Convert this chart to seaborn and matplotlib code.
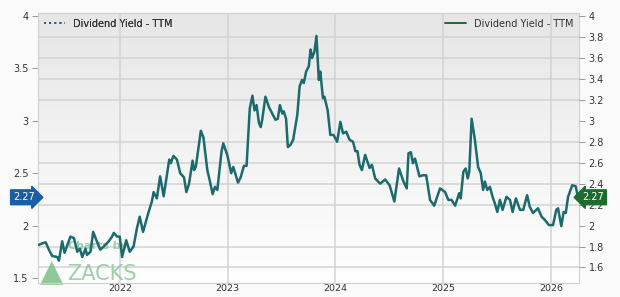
import numpy as np
import pandas as pd
import matplotlib
matplotlib.use("Agg")
import matplotlib.pyplot as plt
from matplotlib.lines import Line2D
from matplotlib.colors import LinearSegmentedColormap
import seaborn as sns

dates = [
    "2021-03-31", "2021-04-12", "2021-04-24", "2021-05-05", "2021-05-16", "2021-06-02",
    "2021-06-08", "2021-06-19", "2021-06-27", "2021-07-17", "2021-07-29", "2021-08-09",
    "2021-08-18", "2021-08-26", "2021-09-06", "2021-09-11", "2021-09-23", "2021-10-02",
    "2021-10-13", "2021-10-26", "2021-11-07", "2021-11-24", "2021-12-05", "2021-12-11",
    "2021-12-22", "2021-12-31", "2022-01-08", "2022-01-22", "2022-02-03", "2022-02-16",
    "2022-02-27", "2022-03-09", "2022-03-20", "2022-03-28", "2022-04-08", "2022-04-19",
    "2022-04-25", "2022-05-06", "2022-05-17", "2022-05-29", "2022-06-17", "2022-06-22",
    "2022-07-01", "2022-07-13", "2022-07-24", "2022-08-06", "2022-08-14", "2022-08-23",
    "2022-09-04", "2022-09-09", "2022-09-15", "2022-10-02", "2022-10-11", "2022-10-24",
    "2022-11-02", "2022-11-11", "2022-11-19", "2022-11-27", "2022-12-11", "2022-12-17",
    "2022-12-31", "2023-01-13", "2023-01-20", "2023-02-05", "2023-02-14", "2023-02-25",
    "2023-03-06", "2023-03-17", "2023-03-26", "2023-04-02", "2023-04-09", "2023-04-17",
    "2023-04-23", "2023-04-28", "2023-05-09", "2023-05-21", "2023-06-01", "2023-06-12",
    "2023-06-20", "2023-06-27", "2023-07-05", "2023-07-10", "2023-07-18", "2023-07-24",
    "2023-08-02", "2023-08-11", "2023-08-25", "2023-09-02", "2023-09-10", "2023-09-16",
    "2023-09-24", "2023-10-03", "2023-10-09", "2023-10-14", "2023-10-22", "2023-10-29",
    "2023-11-06", "2023-11-11", "2023-11-20", "2023-11-25", "2023-12-06", "2023-12-15",
    "2023-12-26", "2024-01-07", "2024-01-18", "2024-01-27", "2024-02-07", "2024-02-18",
    "2024-03-01", "2024-03-09", "2024-03-16", "2024-03-23", "2024-03-31", "2024-04-11",
    "2024-04-26", "2024-05-04", "2024-05-15", "2024-06-01", "2024-06-18", "2024-07-03",
    "2024-07-19", "2024-08-04", "2024-08-19", "2024-08-30", "2024-09-05", "2024-09-13",
    "2024-09-20", "2024-09-27", "2024-10-12", "2024-10-23", "2024-11-04", "2024-11-17",
    "2024-12-01", "2024-12-21", "2025-01-07", "2025-01-18", "2025-01-29", "2025-02-10",
    "2025-02-24", "2025-03-01", "2025-03-10", "2025-03-18", "2025-03-25", "2025-03-30",
    "2025-04-07", "2025-04-18", "2025-04-29", "2025-05-08", "2025-05-16", "2025-05-22",
    "2025-05-30", "2025-06-08", "2025-06-17", "2025-06-25", "2025-07-03", "2025-07-12",
    "2025-07-21", "2025-08-03", "2025-08-15", "2025-08-24", "2025-09-04", "2025-09-18",
    "2025-09-29", "2025-10-12", "2025-10-21", "2025-11-01", "2025-11-18", "2025-11-30",
    "2025-12-11", "2025-12-25", "2026-01-08", "2026-01-19", "2026-01-25", "2026-02-05",
    "2026-02-13", "2026-02-20", "2026-02-28", "2026-03-14", "2026-03-26", "2026-04-02",
    "2026-04-05",
]
dividend_yield = [
    1.815, 1.83, 1.84, 1.77, 1.71, 1.70,
    1.665, 1.85, 1.74, 1.895, 1.88, 1.75,
    1.78, 1.70, 1.78, 1.72, 1.75, 1.94,
    1.86, 1.77, 1.80, 1.85, 1.895, 1.93,
    1.895, 1.895, 1.70, 1.86, 1.75, 1.80,
    1.97, 2.085, 1.94, 2.02, 2.13, 2.23,
    2.32, 2.26, 2.47, 2.28, 2.63, 2.595,
    2.665, 2.63, 2.50, 2.46, 2.32, 2.40,
    2.62, 2.53, 2.56, 2.905, 2.84, 2.53,
    2.42, 2.30, 2.37, 2.34, 2.705, 2.785,
    2.67, 2.50, 2.56, 2.41, 2.46, 2.57,
    2.57, 3.12, 3.24, 3.10, 3.15, 2.98,
    2.94, 3.01, 3.23, 3.13, 3.07, 3.01,
    3.02, 3.15, 3.07, 3.09, 3.02, 2.75,
    2.77, 2.82, 3.055, 3.33, 3.39, 3.36,
    3.47, 3.52, 3.68, 3.60, 3.66, 3.81,
    3.39, 3.47, 3.215, 3.23, 3.10, 2.865,
    2.865, 2.80, 2.99, 2.88, 2.895, 2.82,
    2.80, 2.71, 2.71, 2.58, 2.53, 2.675,
    2.55, 2.58, 2.45, 2.40, 2.44, 2.385,
    2.23, 2.545, 2.42, 2.355, 2.69, 2.70,
    2.595, 2.64, 2.47, 2.48, 2.48, 2.245,
    2.19, 2.355, 2.32, 2.245, 2.245, 2.19,
    2.31, 2.26, 2.515, 2.545, 2.45, 2.515,
    3.02, 2.82, 2.56, 2.50, 2.34, 2.42,
    2.34, 2.37, 2.275, 2.21, 2.13, 2.245,
    2.15, 2.275, 2.245, 2.13, 2.26, 2.15,
    2.15, 2.29, 2.18, 2.12, 2.165, 2.085,
    2.055, 2.005, 2.005, 2.15, 2.165, 1.995,
    2.13, 2.12, 2.275, 2.385, 2.375, 2.275,
    2.27,
]
last_value = 2.27
series_name = "Dividend Yield - TTM"
left_ticks = [1.5, 2.0, 2.5, 3.0, 3.5, 4.0]
left_labels = ["1.5", "2", "2.5", "3", "3.5", "4"]
right_ticks = [1.6, 1.8, 2.0, 2.2, 2.4, 2.6, 2.8, 3.0, 3.2, 3.4, 3.6, 3.8, 4.0]
right_labels = ["1.6", "1.8", "2", "2.2", "2.4", "2.6", "2.8", "3", "3.2", "3.4", "3.6", "3.8", "4"]
year_ticks = ["2022-01-01", "2023-01-01", "2024-01-01", "2025-01-01", "2026-01-01"]
year_labels = ["2022", "2023", "2024", "2025", "2026"]

df = pd.DataFrame({"date": pd.to_datetime(dates), "value": dividend_yield})

sns.set_style("white")
plt.rcParams["font.family"] = ["DejaVu Sans"]

fig = plt.figure(figsize=(6.2, 2.97), dpi=100, facecolor="#fafafa")
ax = fig.add_axes([38 / 620, 14 / 297, 541 / 620, 270 / 297])

xmin = pd.Timestamp("2021-03-29")
xmax = pd.Timestamp("2026-04-06")
ymin, ymax = 1.452, 4.029

grad = np.linspace(0, 1, 256).reshape(-1, 1)
cmap = LinearSegmentedColormap.from_list("bg", ["#ffffff", "#e6e6e6"])
ax.imshow(grad, aspect="auto", cmap=cmap, origin="lower",
          extent=[0, 1, 0, 1], transform=ax.transAxes, zorder=0)

# watermark (under the line)
ax.text(0.056, 0.125, "Charts by", transform=ax.transAxes, fontsize=8, color="#8cc79a",
        alpha=0.85, zorder=2, fontweight="bold")
ax.text(0.004, 0.005, "\u25B2", transform=ax.transAxes, fontsize=22, color="#7cc08a",
        alpha=0.85, zorder=2)
ax.text(0.054, 0.012, "ZACKS", transform=ax.transAxes, fontsize=15, color="#8cc79a",
        alpha=0.85, zorder=2)

sns.lineplot(data=df, x="date", y="value", ax=ax, color="#1b6a6c", linewidth=1.8, zorder=3)

ax.set_xlim(xmin, xmax)
ax.set_ylim(ymin, ymax)
ax.set_xlabel("")
ax.set_ylabel("")

ax.set_yticks(left_ticks)
ax.set_yticklabels(left_labels)
ax.set_yticks(right_ticks, minor=True)
ax.grid(True, which="minor", axis="y", color="#d3d3d3", linewidth=1.1, zorder=1)
ax.grid(False, which="major", axis="y")
ax.tick_params(axis="y", which="minor", length=0)
ax.tick_params(axis="y", which="major", length=4, width=0.6, color="#888888",
               labelsize=7, labelcolor="#333333", pad=3)

ax.set_xticks(pd.to_datetime(year_ticks))
ax.set_xticklabels(year_labels)
ax.grid(True, which="major", axis="x", color="#d3d3d3", linewidth=1.1, zorder=1)
ax.tick_params(axis="x", length=0, labelsize=6.8, labelcolor="#333333", pad=1)

for s in ax.spines.values():
    s.set_color("#d0d0d0")
    s.set_linewidth(0.8)

ax2 = ax.twinx()
ax2.set_ylim(ymin, ymax)
ax2.set_yticks(right_ticks)
ax2.set_yticklabels(right_labels)
ax2.tick_params(axis="y", length=4, width=0.6, color="#888888", labelsize=7,
                labelcolor="#333333", pad=3)
for s in ax2.spines.values():
    s.set_visible(False)

h1 = [Line2D([0], [0], color="#1f5fa8", linestyle=":", linewidth=1.4)]
leg1 = ax.legend(h1, [series_name], loc="upper left", frameon=False, fontsize=7,
                 handlelength=2.2, borderaxespad=0.2, labelcolor="#333333")
ax.add_artist(leg1)
h2 = [Line2D([0], [0], color="#1e6b30", linestyle="-", linewidth=1.4)]
ax2.legend(h2, [series_name], loc="upper right", frameon=False, fontsize=7,
           handlelength=2.2, borderaxespad=0.2, labelcolor="#333333")

trans_l = matplotlib.transforms.blended_transform_factory(ax2.transAxes, ax2.transData)
ax2.text(-0.006, last_value, f"{last_value:.2f}", transform=trans_l, ha="right", va="center",
         fontsize=7, color="white", zorder=10, clip_on=False,
         bbox=dict(boxstyle="rarrow,pad=0.25", fc="#1a5ea6", ec="#1a5ea6"))
ax2.text(1.006, last_value, f"{last_value:.2f}", transform=trans_l, ha="left", va="center",
         fontsize=7, color="white", zorder=10, clip_on=False,
         bbox=dict(boxstyle="larrow,pad=0.25", fc="#1e6b30", ec="#1e6b30"))

fig.savefig("out.png", dpi=100, facecolor=fig.get_facecolor())
